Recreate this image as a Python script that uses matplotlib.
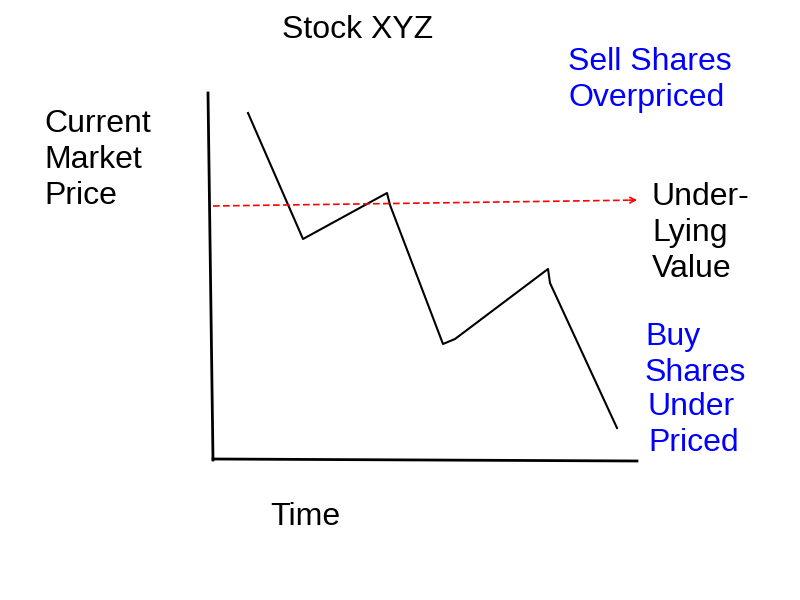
import matplotlib
matplotlib.use("Agg")
import matplotlib.pyplot as plt

# Sketch data (time, price) in picture units
time_pts = [248, 303, 387, 390, 443, 455, 548, 550, 617]
price_pts = [113, 239, 193, 205, 344, 339, 269, 283, 428]
yaxis_x = [208, 213]; yaxis_y = [93, 460]
xaxis_x = [213, 637]; xaxis_y = [459, 461]
value_x = [213, 640]; value_y = [206, 200]

plt.rcParams['font.family'] = ['Liberation Sans', 'DejaVu Sans']
fig = plt.figure(figsize=(8, 6), dpi=100)
ax = fig.add_axes([0, 0, 1, 1])
ax.set_xlim(0, 800); ax.set_ylim(600, 0); ax.axis('off')

ax.plot(yaxis_x, yaxis_y, color='black', lw=2)
ax.plot(xaxis_x, xaxis_y, color='black', lw=2)
ax.plot(time_pts, price_pts, color='black', lw=1.5)
ax.plot(value_x[:1] + [value_x[1] - 12], [value_y[0], value_y[1] + 0.2], color='red', lw=1.2, ls=(0, (4, 2)))
ax.annotate('', xy=(value_x[1], value_y[1]), xytext=(value_x[1] - 14, value_y[1] + 0.2),
            arrowprops=dict(arrowstyle='->', color='red', lw=1.2))

fs = 23
ls = 1.28
ax.text(358, 30, 'Stock XYZ', fontsize=fs, ha='center', va='center')
ax.text(44, 160, 'Current\nMarket\nPrice', fontsize=fs, ha='left', va='center', linespacing=ls)
ax.text(568, 80, 'Sell Shares\nOverpriced', fontsize=fs, ha='left', va='center', color='#0000ff', linespacing=ls)
ax.text(652, 233, 'Under-\nLying\nValue', fontsize=fs, ha='left', va='center', linespacing=ls)
ax.text(645, 355, 'Buy\nShares', fontsize=fs, ha='left', va='center', color='#0000ff', linespacing=ls)
ax.text(648, 425, 'Under\nPriced', fontsize=fs, ha='left', va='center', color='#0000ff', linespacing=ls)
ax.text(305, 517, 'Time', fontsize=fs, ha='center', va='center')

fig.savefig('out.png', dpi=100)
